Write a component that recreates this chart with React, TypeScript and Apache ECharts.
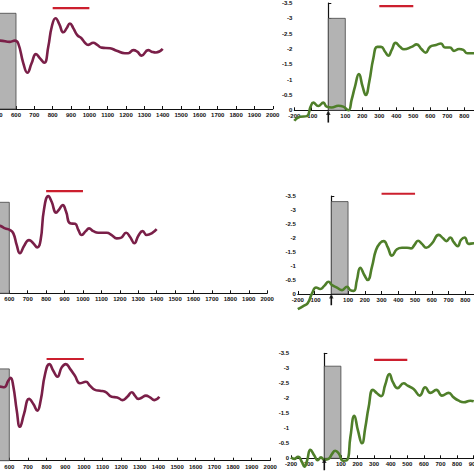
import React, { useEffect, useRef } from "react";
import * as echarts from "echarts";

// ---------- data (time in ms, amplitude) ----------
const tlTimes = [480, 513, 567, 594, 612, 640, 662, 685, 709, 731, 754, 776, 795, 816, 836, 858, 876, 894, 913, 934, 958, 976, 994, 1021, 1043, 1067, 1113, 1149, 1194, 1212, 1240, 1261, 1285, 1321, 1340, 1363, 1400];
const tlValues = [2.22, 2.23, 2.19, 2.23, 2.14, 1.49, 1.18, 1.49, 1.79, 1.65, 1.51, 2.03, 2.68, 2.96, 2.77, 2.5, 2.63, 2.79, 2.63, 2.41, 2.3, 2.16, 2.09, 2.16, 2.09, 2.0, 1.98, 1.9, 1.82, 1.82, 1.92, 1.87, 1.74, 1.92, 1.87, 1.84, 1.96];

const mlTimes = [500, 549, 577, 604, 622, 640, 658, 680, 707, 730, 752, 770, 788, 812, 830, 854, 871, 890, 908, 930, 957, 975, 993, 1015, 1033, 1056, 1083, 1129, 1156, 1183, 1205, 1234, 1255, 1279, 1300, 1324, 1346, 1373, 1400];
const mlValues = [2.46, 2.41, 2.32, 2.26, 2.14, 1.73, 1.43, 1.69, 1.9, 1.79, 1.64, 1.9, 2.98, 3.47, 3.27, 2.88, 3.0, 3.15, 2.92, 2.5, 2.48, 2.26, 2.08, 2.22, 2.32, 2.22, 2.16, 2.16, 2.08, 1.96, 1.98, 2.16, 2.02, 1.79, 2.05, 2.22, 2.08, 2.14, 2.29];

const blTimes = [500, 550, 572, 595, 607, 621, 640, 657, 679, 706, 729, 750, 768, 792, 815, 836, 858, 881, 903, 926, 952, 979, 1011, 1033, 1060, 1087, 1114, 1149, 1179, 1208, 1233, 1257, 1274, 1292, 1310, 1333, 1355, 1378, 1405];
const blValues = [2.47, 2.47, 2.45, 2.67, 2.76, 2.5, 1.67, 1.13, 1.56, 2.06, 1.89, 1.67, 2.0, 2.89, 3.22, 3.0, 2.8, 3.11, 3.22, 3.06, 2.83, 2.58, 2.63, 2.5, 2.36, 2.33, 2.3, 2.13, 2.11, 2.02, 2.13, 2.28, 2.17, 2.06, 2.1, 2.17, 2.11, 2.02, 2.13];

const trTimes = [-200, -166, -127, -104, -88, -59, -29, -10, 20, 59, 88, 118, 137, 157, 180, 202, 220, 241, 265, 288, 310, 334, 353, 373, 396, 422, 445, 490, 520, 549, 573, 598, 634, 663, 686, 716, 739, 769, 794, 818, 857, 880];
const trValues = [0.34, 0.21, 0.19, -0.12, -0.25, -0.14, -0.25, -0.12, -0.09, -0.15, -0.12, 0, -0.34, -0.77, -1.18, -0.77, -0.5, -0.93, -1.7, -2.07, -2.07, -1.91, -1.78, -1.97, -2.2, -2.07, -1.99, -2.07, -2.15, -1.99, -1.88, -2.07, -2.13, -2.18, -2.05, -2.05, -1.94, -2.0, -1.97, -1.86, -1.86, -1.86];

const mrTimes = [-200, -165, -141, -115, -91, -66, -42, -16, 4, 34, 64, 94, 113, 134, 153, 173, 197, 217, 243, 267, 293, 313, 337, 362, 392, 422, 452, 476, 496, 518, 541, 567, 601, 641, 667, 687, 711, 731, 755, 774, 796, 820, 852, 880];
const mrValues = [0.54, 0.42, 0.33, -0.02, -0.23, -0.18, -0.29, -0.44, -0.32, -0.23, -0.14, -0.26, -0.14, -0.11, -0.5, -0.94, -0.68, -0.5, -0.98, -1.57, -1.83, -1.89, -1.67, -1.37, -1.6, -1.65, -1.65, -1.63, -1.75, -1.9, -1.79, -1.65, -1.81, -2.11, -1.99, -1.89, -2.02, -1.85, -1.71, -1.93, -2.02, -1.79, -1.81, -1.81];

const brTimes = [-200, -181, -158, -134, -120, -104, -84, -60, -40, -20, 0, 26, 46, 66, 87, 113, 137, 157, 181, 203, 227, 247, 267, 293, 317, 342, 367, 392, 414, 442, 478, 502, 538, 575, 608, 639, 675, 709, 749, 779, 810, 840, 880, 900];
const brValues = [-0.03, 0.02, -0.05, 0.13, 0.28, 0.08, -0.28, -0.09, 0.06, -0.03, 0.05, 0.02, -0.14, -0.25, -0.16, 0.08, 0.06, -0.7, -1.42, -0.92, -0.5, -1.03, -1.7, -2.28, -2.17, -2.07, -2.45, -2.81, -2.53, -2.34, -2.5, -2.42, -2.31, -2.09, -2.37, -2.18, -2.28, -2.09, -2.18, -2.03, -1.92, -1.87, -1.92, -1.9];

// red analysis-window bars
const leftWindow = [800, 1000];
const rightWindow = [300, 500];
const windowLevels = [3.29, -3.4, 3.65, -3.58, 3.39, -3.28]; // TL, TR, ML, MR, BL, BR
// gray boxes
const leftBox = [500, 600];
const rightBox = [0, 100];
const boxTops = [3.12, -3.0, 3.25, -3.3, 3.06, -3.07];
// onset arrow (below the x axis, at time 0)
const arrowTimes = [0, 0];
const arrowValues = [0.4, 0.07];

const leftTickInterval = 100;
const rightTickInterval = 100;
const rightYTicks = 0.5;

const MAROON = "#7a1f48";
const GREEN = "#4f7f2a";
const RED = "#cc1f2e";

// ---------- layout (pixels) ----------
const grids = [
  { left: -20.68, top: 1.65, width: 293.44, height: 107.35 }, // TL
  { left: 294.3, top: 3, width: 187, height: 107.3 }, // TR
  { left: -27.54, top: 195.3, width: 294.72, height: 98 }, // ML
  { left: 297.8, top: 196, width: 184.25, height: 98 }, // MR
  { left: -27.98, top: 355.7, width: 298.24, height: 105 }, // BL
  { left: 291.1, top: 353.3, width: 182.6, height: 105 }, // BR
];

const labelStyle = {
  fontSize: 6,
  fontWeight: "bold" as const,
  color: "#111",
  fontFamily: "Liberation Sans, Arial, sans-serif",
};

function zip(a: number[], b: number[]) {
  return a.map((t, i) => [t, b[i]]);
}

export default function App() {
  const ref = useRef<HTMLDivElement>(null);
  useEffect(() => {
    if (!ref.current) return;
    const chart = echarts.init(ref.current, undefined, { renderer: "svg" });
    const panels = [
      { x: tlTimes, y: tlValues, right: false },
      { x: trTimes, y: trValues, right: true },
      { x: mlTimes, y: mlValues, right: false },
      { x: mrTimes, y: mrValues, right: true },
      { x: blTimes, y: blValues, right: false },
      { x: brTimes, y: brValues, right: true },
    ];
    const xAxis: any[] = [];
    const yAxis: any[] = [];
    const series: any[] = [];
    panels.forEach((p, i) => {
      const axisLine = { show: true, onZero: true, lineStyle: { color: "#111", width: 1.2 } };
      const axisTick = { show: true, inside: true, length: 3, lineStyle: { color: "#111", width: 1 } };
      if (p.right) {
        xAxis.push({
          type: "value",
          gridIndex: i,
          min: -200,
          max: 900,
          interval: rightTickInterval,
          axisLine,
          axisTick,
          splitLine: { show: false },
          axisLabel: {
            ...labelStyle,
            margin: 3,
            hideOverlap: false,
            formatter: (v: number) => (v === 0 ? "" : String(v)),
          },
        });
        yAxis.push({
          type: "value",
          gridIndex: i,
          inverse: true,
          min: -3.5,
          max: 0,
          interval: rightYTicks,
          axisLine,
          axisTick,
          splitLine: { show: false },
          axisLabel: { ...labelStyle, margin: 2, formatter: (v: number) => String(v) },
        });
      } else {
        xAxis.push({
          type: "value",
          gridIndex: i,
          min: 400,
          max: 2000,
          interval: leftTickInterval,
          axisLine,
          axisTick,
          splitLine: { show: false },
          axisLabel: { ...labelStyle, margin: 3, hideOverlap: false, formatter: (v: number) => String(v) },
        });
        yAxis.push({
          type: "value",
          gridIndex: i,
          min: 0,
          max: 3.5,
          show: false,
        });
      }
      const win = p.right ? rightWindow : leftWindow;
      const box = p.right ? rightBox : leftBox;
      series.push({
        type: "line",
        xAxisIndex: i,
        yAxisIndex: i,
        data: [
          [win[0], windowLevels[i]],
          [win[1], windowLevels[i]],
        ],
        symbol: "none",
        clip: false,
        z: 2,
        lineStyle: { color: RED, width: 2.2 },
        markArea: {
          silent: true,
          itemStyle: { color: "#b3b3b3", borderColor: "#444", borderWidth: 0.8 },
          data: [[{ coord: [box[0], 0] }, { coord: [box[1], boxTops[i]] }]],
        },
      });
      if (p.right) {
        series.push({
          type: "line",
          xAxisIndex: i,
          yAxisIndex: i,
          data: zip(arrowTimes, arrowValues),
          symbol: "none",
          clip: false,
          z: 4,
          lineStyle: { color: "#111", width: 1.6 },
        });
        series.push({
          type: "scatter",
          xAxisIndex: i,
          yAxisIndex: i,
          data: [[arrowTimes[1], arrowValues[1]]],
          symbol: "triangle",
          symbolSize: [4.5, 5],
          clip: false,
          z: 4,
          itemStyle: { color: "#111" },
        });
      }
      series.push({
        type: "line",
        xAxisIndex: i,
        yAxisIndex: i,
        data: zip(p.x, p.y),
        smooth: 0.5,
        symbol: "none",
        clip: false,
        z: 3,
        lineStyle: { color: p.right ? GREEN : MAROON, width: 2.6 },
      });
    });
    chart.setOption({
      animation: false,
      backgroundColor: "#fff",
      grid: grids.map((g) => ({ ...g, containLabel: false, outerBoundsMode: "none" })),
      xAxis,
      yAxis,
      series,
    });
    return () => chart.dispose();
  }, []);
  return (
    <div
      ref={ref}
      style={{ position: "absolute", left: 0, top: 0, width: 474, height: 474 }}
    />
  );
}
